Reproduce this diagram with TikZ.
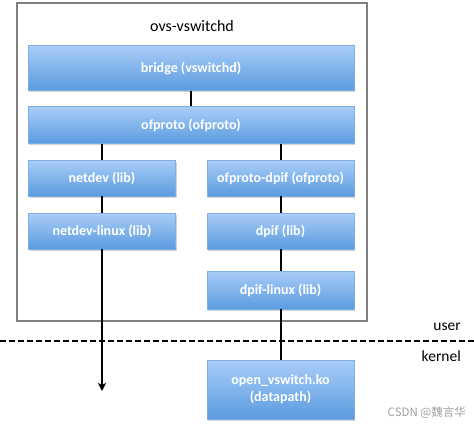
\documentclass[tikz,border=0pt]{standalone}
\usepackage{fontspec}
\setmainfont{Carlito}
\newfontfamily\cjkfont{Noto Sans CJK SC}
\usepackage{tikz}
\usetikzlibrary{arrows.meta, positioning, shadows}
\definecolor{boxtop}{HTML}{A9CDF7}
\definecolor{boxbottom}{HTML}{5A9BE0}
\definecolor{framegray}{HTML}{7F7F7F}

\begin{document}
\begin{tikzpicture}[
            x=1pt, y=-1pt,
            layer/.style={top color=boxtop, bottom color=boxbottom, draw=boxbottom!80!white,
                text=white, font=\fontsize{14}{16}\selectfont\bfseries, align=center,
                inner sep=0pt, drop shadow={opacity=0.35, shadow xshift=1pt, shadow yshift=-1.5pt}},
            wide/.style={layer, minimum width=326pt},
            half/.style={layer, minimum width=147pt, minimum height=36pt},
            link/.style={draw, line width=2pt},
        ]
        \useasboundingbox (0,0) rectangle (474,424);

        % user space daemon
        \draw[framegray, line width=1.2pt] (17,3) rectangle (367,321);
        \node[font=\fontsize{16}{19}\selectfont] (title) at (192,26) {ovs-vswitchd};

        \node[wide, minimum height=45pt] (bridge) at (191,68) {bridge (vswitchd)};
        \node[wide, minimum height=37pt] (ofproto) at (191,125) {ofproto (ofproto)};

        \node[half] (netdev) at (102,178) {netdev (lib)};
        \node[half] (netdevlinux) at (102,231) {netdev-linux (lib)};

        \node[half] (ofprotodpif) at (280.5,178) {ofproto-dpif (ofproto)};
        \node[half] (dpif) at (280.5,231) {dpif (lib)};
        \node[half, minimum height=38pt] (dpiflinux) at (280.5,290) {dpif-linux (lib)};

        % kernel module
        \node[half, minimum height=59pt, font=\fontsize{14}{17}\selectfont\bfseries] (datapath) at (280.5,389.5) {open\_vswitch.ko\\(datapath)};

        \draw[link] (bridge.south) -- (ofproto.north);
        \draw[link] (ofproto.south -| netdev.north) -- (netdev.north);
        \draw[link] (ofproto.south -| ofprotodpif.north) -- (ofprotodpif.north);
        \draw[link] (netdev) -- (netdevlinux);
        \draw[link] (ofprotodpif) -- (dpif);
        \draw[link] (dpif) -- (dpiflinux);
        \draw[link] (dpiflinux) -- (datapath);

        \coordinate (sink) at (102,391);
        \draw[link, -{Stealth[length=8pt, width=8pt, inset=2pt]}] (netdevlinux.south) -- (sink);

        % user / kernel boundary
        \coordinate (bleft) at (0,341);
        \coordinate (bright) at (474,341);
        \draw[line width=2pt, dash pattern=on 6pt off 3pt] (bleft) -- (bright);
        \node[anchor=east, font=\fontsize{15.5}{18}\selectfont, inner sep=0pt] (user) at (461,327) {user};
        \node[anchor=east, font=\fontsize{15.5}{18}\selectfont, inner sep=0pt] (kernel) at (461,356) {kernel};

        \node[anchor=east, text=gray!75, font=\cjkfont\fontsize{11.5}{13}\selectfont, inner sep=0pt] (mark) at (466,413) {CSDN @魏言华};
        \end{tikzpicture}
\end{document}
